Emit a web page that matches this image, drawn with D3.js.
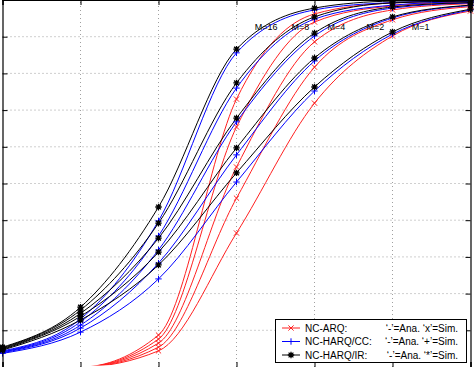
<!DOCTYPE html>
<html>
<head>
<meta charset="utf-8">
<script src="https://cdn.jsdelivr.net/npm/d3@7"></script>
<style>
body { margin: 0; background: #fff; }
text { font-family: "Liberation Sans", Arial, sans-serif; }
</style>
</head>
<body>
<div id="chart"></div>
<script>
// x = SNR (dB), one row per M (16, 8, 4, 2, 1)
var snr = [0, 5, 10, 15, 20, 25, 30];
var mLabels = ["M=16", "M=8", "M=4", "M=2", "M=1"];

var arq = [
  [0, 0, 0.087, 0.730, 0.962, 0.992, 0.997],
  [0, 0, 0.076, 0.654, 0.940, 0.984, 0.995],
  [0, 0, 0.065, 0.545, 0.886, 0.973, 0.990],
  [0, 0, 0.054, 0.460, 0.817, 0.946, 0.982],
  [0, 0, 0.044, 0.365, 0.719, 0.902, 0.970]
];
var harqCC = [
  [0.044, 0.131, 0.398, 0.856, 0.973, 0.993, 0.998],
  [0.042, 0.123, 0.357, 0.760, 0.948, 0.986, 0.996],
  [0.041, 0.114, 0.319, 0.668, 0.902, 0.978, 0.992],
  [0.039, 0.106, 0.283, 0.578, 0.834, 0.951, 0.985],
  [0.037, 0.095, 0.240, 0.504, 0.752, 0.907, 0.973]
];
var harqIR = [
  [0.054, 0.163, 0.436, 0.866, 0.978, 0.997, 0.999],
  [0.052, 0.155, 0.392, 0.774, 0.954, 0.992, 0.997],
  [0.050, 0.146, 0.351, 0.678, 0.910, 0.981, 0.993],
  [0.048, 0.138, 0.313, 0.597, 0.842, 0.954, 0.986],
  [0.046, 0.128, 0.278, 0.529, 0.763, 0.913, 0.975]
];

var xTicks = [0, 5, 10, 15, 20, 25, 30];
var yTicks = [0, 0.1, 0.2, 0.3, 0.4, 0.5, 0.6, 0.7, 0.8, 0.9, 1];

var legendNames = ["NC-ARQ:", "NC-HARQ/CC:", "NC-HARQ/IR:"];
var legendNotes = ["\u2018-\u2019=Ana. \u2018x\u2019=Sim.", "\u2018-\u2019=Ana. \u2018+\u2019=Sim.", "\u2018-\u2019=Ana. \u2018*\u2019=Sim."];

// label anchors for the M= annotations (data coords)
var labelX = [16.9, 19.1, 21.4, 23.9, 26.8];
var labelY = 0.918;

var W = 474, H = 367;
var svg = d3.select("#chart").append("svg")
  .attr("width", W)
  .attr("height", H);

var x = d3.scaleLinear().domain([0, 30]).range([2.5, 470.5]);
var y = d3.scaleLinear().domain([0, 1]).range([367, 0]);

// bottom axis sits just below the crop, so clip a bit higher
svg.append("clipPath").attr("id", "clip")
  .append("rect")
  .attr("x", x(0)).attr("y", y(1) - 5)
  .attr("width", x(30) - x(0)).attr("height", y(0) - y(1) + 3.2);

// grid
svg.append("g").selectAll("line")
  .data(xTicks.slice(1, -1))
  .enter().append("line")
  .attr("x1", d => x(d)).attr("x2", d => x(d))
  .attr("y1", y(0)).attr("y2", y(1))
  .attr("stroke", "#888").attr("stroke-width", 0.8)
  .attr("stroke-dasharray", "1,3");
svg.append("g").selectAll("line")
  .data(yTicks.slice(1, -1))
  .enter().append("line")
  .attr("x1", x(0)).attr("x2", x(30))
  .attr("y1", d => y(d)).attr("y2", d => y(d))
  .attr("stroke", "#888").attr("stroke-width", 0.8)
  .attr("stroke-dasharray", "1,3");

var line = d3.line()
  .x((d, i) => x(snr[i]))
  .y(d => y(d))
  .curve(d3.curveMonotoneX);

var series = [
  { data: arq, color: "#ff2020", marker: "x" },
  { data: harqCC, color: "#0000ff", marker: "+" },
  { data: harqIR, color: "#000000", marker: "*" }
];

function marker(g, type, color, cx, cy) {
  var s = type == "x" ? 2.6 : 3.2;
  var p = "";
  if (type == "x" || type == "*") {
    var k = type == "*" ? 2.4 : s;
    p += "M" + (cx - k) + "," + (cy - k) + "L" + (cx + k) + "," + (cy + k);
    p += "M" + (cx - k) + "," + (cy + k) + "L" + (cx + k) + "," + (cy - k);
  }
  if (type == "+" || type == "*") {
    p += "M" + (cx - s) + "," + cy + "L" + (cx + s) + "," + cy;
    p += "M" + cx + "," + (cy - s) + "L" + cx + "," + (cy + s);
  }
  g.append("path").attr("d", p).attr("stroke", color)
    .attr("stroke-width", type == "*" ? 1.3 : 1).attr("fill", "none");
}

var plot = svg.append("g").attr("clip-path", "url(#clip)");
series.forEach(function(s) {
  s.data.forEach(function(row) {
    plot.append("path")
      .attr("d", line(row))
      .attr("fill", "none")
      .attr("stroke", s.color)
      .attr("stroke-width", 1);
  });
});
var marks = svg.append("g");
series.forEach(function(s) {
  s.data.forEach(function(row) {
    row.forEach(function(v, i) {
      if (v > 0.01) marker(marks, s.marker, s.color, x(snr[i]), y(v));
    });
  });
});

// axes, ticks pointing inwards, no labels (cropped)
svg.append("g").attr("transform", "translate(0," + y(0) + ")")
  .call(d3.axisBottom(x).tickValues(xTicks).tickSize(-5).tickFormat(""));
svg.append("g").attr("transform", "translate(0," + y(1) + ")")
  .call(d3.axisTop(x).tickValues(xTicks).tickSize(-5).tickFormat(""));
svg.append("g").attr("transform", "translate(" + x(0) + ",0)")
  .call(d3.axisLeft(y).tickValues(yTicks).tickSize(-5).tickFormat(""));
svg.append("g").attr("transform", "translate(" + x(30) + ",0)")
  .call(d3.axisRight(y).tickValues(yTicks).tickSize(-5).tickFormat(""));
svg.selectAll(".domain").attr("stroke", "#000").attr("stroke-width", 1.2);
svg.selectAll(".tick line").attr("stroke", "#000");

// M= labels
svg.append("g").selectAll("text")
  .data(mLabels)
  .enter().append("text")
  .attr("x", (d, i) => x(labelX[i]))
  .attr("y", y(labelY))
  .attr("text-anchor", "middle")
  .attr("font-size", 9)
  .attr("fill", "#000")
  .text(d => d);

// legend
var lg = svg.append("g");
lg.append("rect")
  .attr("x", 275.5).attr("y", 319.5)
  .attr("width", 191).attr("height", 43)
  .attr("fill", "#fff").attr("stroke", "#000").attr("stroke-width", 1);
series.forEach(function(s, i) {
  var cy = 328 + i * 13.5;
  lg.append("line")
    .attr("x1", 282).attr("x2", 300)
    .attr("y1", cy).attr("y2", cy)
    .attr("stroke", s.color).attr("stroke-width", 1);
  marker(lg, s.marker, s.color, 291, cy);
  lg.append("text")
    .attr("x", 305).attr("y", cy + 3.6)
    .attr("font-size", 10)
    .text(legendNames[i]);
  lg.append("text")
    .attr("x", 458).attr("y", cy + 3.6)
    .attr("text-anchor", "end")
    .attr("font-size", 10)
    .text(legendNotes[i]);
});
</script>
</body>
</html>
